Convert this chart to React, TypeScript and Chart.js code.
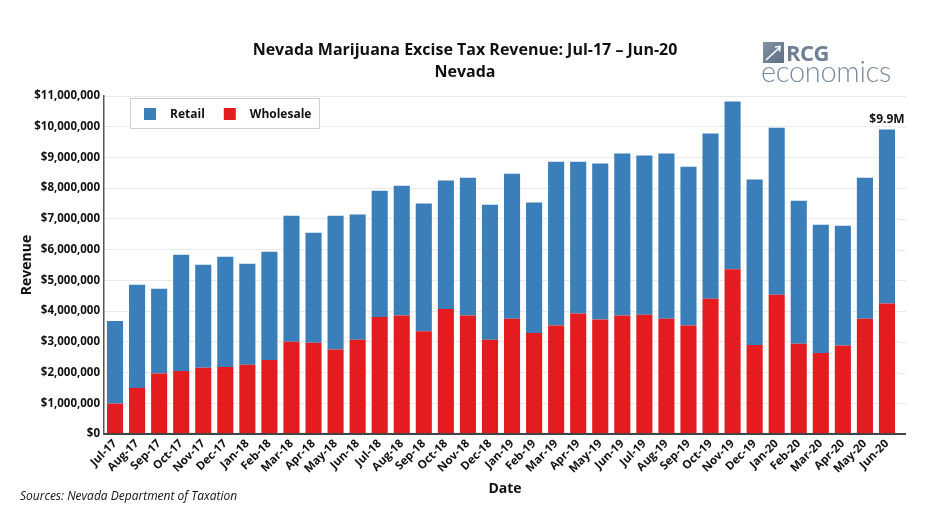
import React, { useEffect, useRef } from "react";
import { Chart, registerables } from "chart.js";

Chart.register(...registerables);

const months = [
  "Jul-17", "Aug-17", "Sep-17", "Oct-17", "Nov-17", "Dec-17",
  "Jan-18", "Feb-18", "Mar-18", "Apr-18", "May-18", "Jun-18",
  "Jul-18", "Aug-18", "Sep-18", "Oct-18", "Nov-18", "Dec-18",
  "Jan-19", "Feb-19", "Mar-19", "Apr-19", "May-19", "Jun-19",
  "Jul-19", "Aug-19", "Sep-19", "Oct-19", "Nov-19", "Dec-19",
  "Jan-20", "Feb-20", "Mar-20", "Apr-20", "May-20", "Jun-20",
];

// values in millions of dollars
const wholesaleM = [
  0.99, 1.5, 1.97, 2.05, 2.16, 2.18,
  2.25, 2.41, 3.0, 2.97, 2.75, 3.07,
  3.81, 3.86, 3.34, 4.07, 3.86, 3.07,
  3.75, 3.29, 3.53, 3.92, 3.73, 3.86,
  3.88, 3.75, 3.53, 4.4, 5.36, 2.9,
  4.53, 2.94, 2.64, 2.88, 3.75, 4.25,
];

const retailM = [
  2.69, 3.36, 2.76, 3.78, 3.35, 3.59,
  3.29, 3.52, 4.1, 3.58, 4.35, 4.07,
  4.11, 4.22, 4.16, 4.18, 4.48, 4.39,
  4.72, 4.24, 5.33, 4.94, 5.07, 5.27,
  5.18, 5.38, 5.17, 5.38, 5.46, 5.38,
  5.44, 4.65, 4.17, 3.9, 4.59, 5.66,
];

const yMax = 11000000;
const yStep = 1000000;
const lastLabel = "$9.9M";

const titleText = "Nevada Marijuana Excise Tax Revenue: Jul-17 \u2013 Jun-20";
const subtitleText = "Nevada";
const sourceText = "Sources: Nevada Department of Taxation";
const legendItems = [
  { label: "Retail", color: "#3a7fb9" },
  { label: "Wholesale", color: "#e41c1f" },
];

const FONT = "'Open Sans', 'DejaVu Sans', sans-serif";
const GRID_EXT = 8;

const extendPlugin = {
  id: "extend",
  beforeDatasetsDraw(chart: any) {
    const ctx = chart.ctx;
    const area = chart.chartArea;
    const y = chart.scales.y;
    ctx.save();
    ctx.strokeStyle = "#e9e9e9";
    ctx.lineWidth = 1;
    y.ticks.forEach((t: any) => {
      if (t.value === 0) return;
      const py = Math.round(y.getPixelForValue(t.value)) + 0.5;
      ctx.beginPath();
      ctx.moveTo(area.right, py);
      ctx.lineTo(area.right + GRID_EXT, py);
      ctx.stroke();
    });
    ctx.restore();
  },
  afterDatasetsDraw(chart: any) {
    const ctx = chart.ctx;
    const area = chart.chartArea;
    const yb = Math.round(area.bottom);
    ctx.save();
    ctx.strokeStyle = "#444";
    ctx.lineWidth = 2;
    ctx.beginPath();
    ctx.moveTo(area.left, yb);
    ctx.lineTo(area.right + GRID_EXT, yb);
    ctx.stroke();
    ctx.restore();
  },
};

const overlayPlugin = {
  id: "overlay",
  afterDraw(chart: any) {
    const ctx = chart.ctx;
    const area = chart.chartArea;
    ctx.save();
    ctx.fillStyle = "#111";
    ctx.textAlign = "center";
    ctx.textBaseline = "middle";
    ctx.font = `bold 16px ${FONT}`;
    ctx.fillText(titleText, 465, 50);
    ctx.fillText(subtitleText, 465, 72);

    // axis titles
    ctx.font = `bold 14px ${FONT}`;
    ctx.fillText("Date", 505, 489);
    ctx.save();
    ctx.translate(27, (area.top + area.bottom) / 2);
    ctx.rotate(-Math.PI / 2);
    ctx.fillText("Revenue", 0, 0);
    ctx.restore();

    // source
    ctx.textAlign = "left";
    ctx.font = `italic 12px ${FONT}`;
    ctx.fillText(sourceText, 20, 497);

    // legend
    const lx = 130, ly = 98, lw = 189, lh = 30;
    ctx.fillStyle = "#fff";
    ctx.fillRect(lx, ly, lw, lh);
    ctx.strokeStyle = "#d0d0d0";
    ctx.lineWidth = 1;
    ctx.strokeRect(lx + 0.5, ly + 0.5, lw, lh);
    ctx.font = `bold 12px ${FONT}`;
    ctx.textBaseline = "middle";
    let x = 144;
    legendItems.forEach((it) => {
      ctx.fillStyle = it.color;
      ctx.fillRect(x, 108, 12, 12);
      ctx.fillStyle = "#111";
      ctx.fillText(it.label, x + 26, 114.5);
      x = x + 26 + ctx.measureText(it.label).width + 19;
    });

    // last bar label
    const meta = chart.getDatasetMeta(1);
    const bar = meta.data[meta.data.length - 1];
    if (bar) {
      ctx.textAlign = "center";
      ctx.font = `bold 12px ${FONT}`;
      ctx.fillStyle = "#111";
      ctx.fillText(lastLabel, bar.x, bar.y - 10);
    }
    ctx.restore();
  },
};

function Logo() {
  return (
    <div style={{ position: "absolute", left: 762, top: 40, width: 140, height: 48 }}>
      <div
        style={{
          position: "absolute",
          left: 1,
          top: 2,
          width: 21,
          height: 21,
          background: "linear-gradient(135deg, #8493a6 0%, #5d6e84 100%)",
        }}
      >
        <svg width="21" height="21" viewBox="0 0 21 21">
          <path d="M3 18 L16 6" stroke="#fff" strokeWidth="1.6" fill="none" />
          <path d="M12 5 L17 4.5 L16.5 9.5" stroke="#fff" strokeWidth="1.6" fill="none" />
        </svg>
      </div>
      <div
        style={{
          position: "absolute",
          left: 24,
          top: -3,
          fontFamily: FONT,
          fontWeight: 700,
          fontSize: 22,
          color: "#6f8095",
          letterSpacing: -0.5,
        }}
      >
        RCG
      </div>
      <div
        style={{
          position: "absolute",
          left: -1,
          top: 13,
          fontFamily: "Lato, 'Open Sans', sans-serif",
          fontWeight: 300,
          fontSize: 29,
          color: "#7c8ca0",
          letterSpacing: -0.3,
        }}
      >
        economics
      </div>
    </div>
  );
}

export default function App() {
  const ref = useRef<HTMLCanvasElement>(null);

  useEffect(() => {
    if (!ref.current) return;
    const chart = new Chart(ref.current, {
      type: "bar",
      data: {
        labels: months,
        datasets: [
          {
            label: "Wholesale",
            data: wholesaleM.map((v) => v * 1e6),
            backgroundColor: legendItems[1].color,
            barPercentage: 0.73,
            categoryPercentage: 1,
          },
          {
            label: "Retail",
            data: retailM.map((v) => v * 1e6),
            backgroundColor: legendItems[0].color,
            barPercentage: 0.73,
            categoryPercentage: 1,
          },
        ],
      },
      options: {
        responsive: false,
        animation: false,
        layout: { padding: { top: 96, right: 31, bottom: 15, left: 0 } },
        plugins: {
          legend: { display: false },
          title: { display: false },
          tooltip: { enabled: false },
        },
        scales: {
          x: {
            stacked: true,
            grid: { display: false, drawTicks: false },
            border: { display: false },
            ticks: {
              color: "#111",
              font: { family: FONT, weight: "bold", size: 11.5 },
              maxRotation: 45,
              minRotation: 45,
              autoSkip: false,
              padding: 3,
            },
            afterFit: (s: any) => {
              s.height = 517 - 434 - 15;
            },
          },
          y: {
            stacked: true,
            min: 0,
            max: yMax,
            grid: { color: "#e9e9e9", drawTicks: false },
            border: { display: true, color: "#555", width: 1.5 },
            ticks: {
              stepSize: yStep,
              color: "#111",
              padding: 4,
              font: { family: FONT, weight: "bold", size: 11.5 },
              callback: (v: any) => "$" + Number(v).toLocaleString("en-US"),
            },
            afterFit: (s: any) => {
              s.width = 104;
            },
          },
        },
      },
      plugins: [extendPlugin, overlayPlugin],
    });
    return () => chart.destroy();
  }, []);

  return (
    <div style={{ position: "absolute", left: 0, top: 0, width: 929, height: 517, background: "#fff" }}>
      <canvas ref={ref} width={929} height={517} />
      <Logo />
    </div>
  );
}
